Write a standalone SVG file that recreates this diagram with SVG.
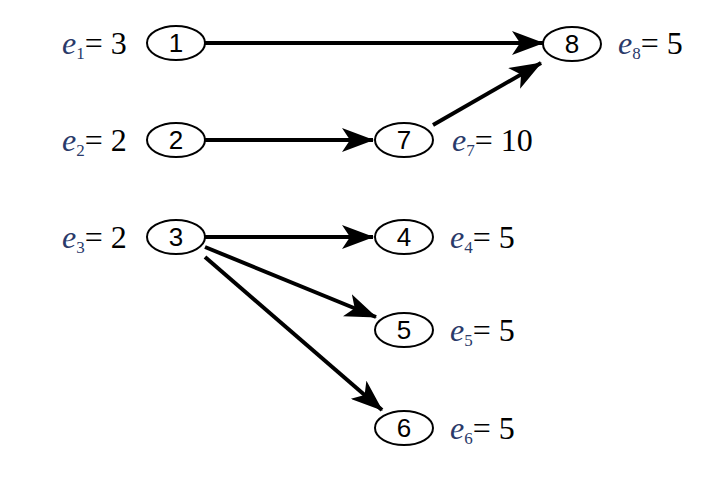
<svg xmlns="http://www.w3.org/2000/svg" width="706" height="498" viewBox="0 0 706 498">
<defs>
<style>
.n ellipse{fill:#fff;stroke:#000;stroke-width:2}
.n text{font-family:"Liberation Sans",sans-serif;font-size:26px;text-anchor:middle}
text.l, text.l tspan{font-family:"Liberation Serif","Times New Roman",serif;font-size:32px;fill:#000}
text.l tspan.e{font-style:italic;fill:#2a3a6a}
text.l tspan.s{font-size:17px;fill:#2a3a6a}
.c line{stroke:#000;stroke-width:4;marker-end:url(#b)}
</style>
<marker id="b" viewBox="0 0 32 24" refX="31" refY="12" markerWidth="32" markerHeight="24" orient="auto" markerUnits="userSpaceOnUse"><path d="M0,0 L32,12 L0,24 L8,12 Z"/></marker></defs>
<g class="c">
<line x1="205" y1="43" x2="543" y2="43"/>
<line x1="205" y1="140" x2="373" y2="140"/>
<line x1="433" y1="125" x2="541" y2="63"/>
<line x1="205" y1="237" x2="373" y2="237"/>
<line x1="205" y1="247" x2="376" y2="317"/>
<line x1="205" y1="257" x2="382" y2="410"/>
</g>
<g id="n1" class="n"><ellipse cx="176" cy="43" rx="29" ry="17"/><text x="176" y="52">1</text></g>
<g id="n2" class="n"><ellipse cx="176" cy="140" rx="29" ry="17"/><text x="176" y="149">2</text></g>
<g id="n3" class="n"><ellipse cx="176" cy="237" rx="29" ry="17"/><text x="176" y="246">3</text></g>
<g id="n4" class="n"><ellipse cx="404" cy="237" rx="29" ry="17"/><text x="404" y="246">4</text></g>
<g id="n5" class="n"><ellipse cx="404" cy="330" rx="29" ry="17"/><text x="404" y="339">5</text></g>
<g id="n6" class="n"><ellipse cx="404" cy="428" rx="29" ry="17"/><text x="404" y="437">6</text></g>
<g id="n7" class="n"><ellipse cx="404" cy="140" rx="29" ry="17"/><text x="404" y="149">7</text></g>
<g id="n8" class="n"><ellipse cx="572" cy="44" rx="29" ry="17"/><text x="572" y="53">8</text></g>
<g id="labels">
<text class="l" x="62" y="54"><tspan class="e">e</tspan><tspan class="s" dy="5">1</tspan><tspan dy="-5">= 3</tspan></text>
<text class="l" x="62" y="151"><tspan class="e">e</tspan><tspan class="s" dy="5">2</tspan><tspan dy="-5">= 2</tspan></text>
<text class="l" x="62" y="248"><tspan class="e">e</tspan><tspan class="s" dy="5">3</tspan><tspan dy="-5">= 2</tspan></text>
<text class="l" x="450" y="248"><tspan class="e">e</tspan><tspan class="s" dy="5">4</tspan><tspan dy="-5">= 5</tspan></text>
<text class="l" x="450" y="341"><tspan class="e">e</tspan><tspan class="s" dy="5">5</tspan><tspan dy="-5">= 5</tspan></text>
<text class="l" x="450" y="439"><tspan class="e">e</tspan><tspan class="s" dy="5">6</tspan><tspan dy="-5">= 5</tspan></text>
<text class="l" x="452" y="151"><tspan class="e">e</tspan><tspan class="s" dy="5">7</tspan><tspan dy="-5">= 10</tspan></text>
<text class="l" x="618" y="54"><tspan class="e">e</tspan><tspan class="s" dy="5">8</tspan><tspan dy="-5">= 5</tspan></text>
</g>
</svg>
